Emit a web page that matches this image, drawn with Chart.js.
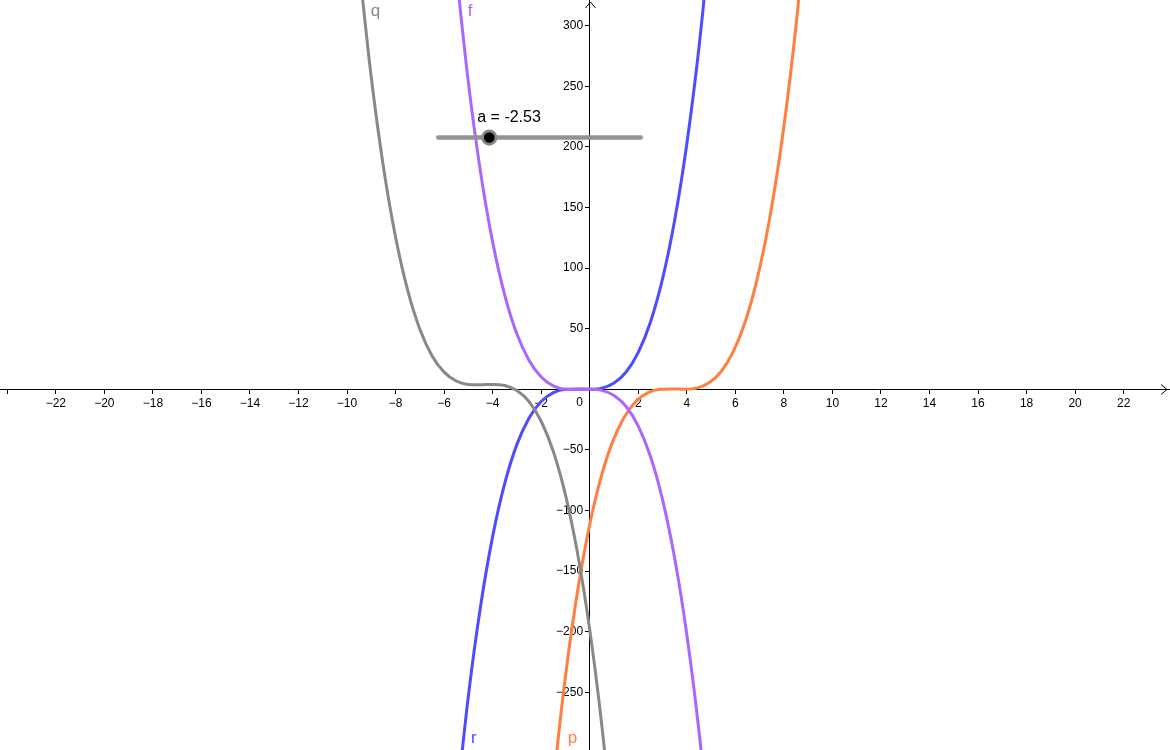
<!DOCTYPE html>
<html>
<head>
<meta charset="utf-8">
<script src="https://cdn.jsdelivr.net/npm/chart.js@4/dist/chart.umd.min.js"></script>
<style>
  html, body { margin: 0; padding: 0; background: #fff; overflow: hidden; }
  canvas { display: block; }
</style>
</head>
<body>
<canvas id="cv" width="1170" height="750"></canvas>
<script>
// sichtbarer ausschnitt (achsen)
const xMin = -24.3, xMax = 23.91;
const yMin = -297.7, yMax = 321.2;

// kurve f (lila)
const fX = [-5.5, -5, -4.5, -4, -3.5, -3, -2.5, -2, -1.5, -1, -0.5, 0, 0.5, 1, 1.5, 2, 2.5, 3, 3.5, 4, 4.5, 5];
const fY = [344.4, 253, 179.3, 121.4, 77.5, 45.5, 23.7, 10.1, 2.8, 0, -0.3, 0, -0.9, -5.1, -14.2, -30.4, -55.3, -91.1, -139.5, -202.4, -281.8, -379.5];

// kurve r (blau)
const rX = [-5.5, -5, -4.5, -4, -3.5, -3, -2.5, -2, -1.5, -1, -0.5, 0, 0.5, 1, 1.5, 2, 2.5, 3, 3.5, 4, 4.5, 5];
const rY = [-344.4, -253, -179.3, -121.4, -77.5, -45.5, -23.7, -10.1, -2.8, 0, 0.3, 0, 0.9, 5.1, 14.2, 30.4, 55.3, 91.1, 139.5, 202.4, 281.8, 379.5];

// kurve p (orange)
const pX = [-1.6, -1.1, -0.6, -0.1, 0.4, 0.9, 1.4, 1.9, 2.4, 2.9, 3.4, 3.9, 4.4, 4.9, 5.4, 5.9, 6.4, 6.9, 7.4, 7.9, 8.4, 8.9];
const pY = [-344.4, -253, -179.3, -121.4, -77.5, -45.5, -23.7, -10.1, -2.8, 0, 0.3, 0, 0.9, 5.1, 14.2, 30.4, 55.3, 91.1, 139.5, 202.4, 281.8, 379.5];

// kurve q (grau)
const qX = [-9.5, -9, -8.5, -8, -7.5, -7, -6.5, -6, -5.5, -5, -4.5, -4, -3.5, -3, -2.5, -2, -1.5, -1, -0.5, 0, 0.5, 1];
const qY = [348.4, 257, 183.3, 125.4, 81.5, 49.5, 27.7, 14.1, 6.8, 4, 3.7, 4, 3.1, -1.1, -10.2, -26.4, -51.3, -87.1, -135.5, -198.4, -277.8, -375.5];

// schieberegler a
const sliderRange = [-6.24, 2.1];
const sliderLevel = 207.7;
const sliderHandle = -4.14;
const sliderText = "a = -2.53";

// namen der kurven
const curveNames = ["q", "f", "r", "p"];
const curveNameX = [-8.83, -4.93, -4.78, -0.71];
const curveNameY = [308.2, 308.2, -292.3, -292.3];

const colF = "#aa66ff", colR = "#4d4dff", colP = "#ff7f40", colQ = "#888888";
const curveNameColors = [colQ, colF, colR, colP];

const labelFont = '"Liberation Sans", Arial, sans-serif';

function pts(xs, ys) {
    return xs.map((v, i) => ({x: v, y: ys[i]}));
}

function curve(label, xs, ys, color) {
    return {
        label: label,
        data: pts(xs, ys),
        borderColor: color,
        borderWidth: 3,
        pointRadius: 0,
        fill: false,
        cubicInterpolationMode: "monotone"
    };
}

function minus(v) {
    return v < 0 ? "\u2212" + Math.abs(v) : String(v);
}

// achsen sollen keinen platz wegnehmen
function noPadding(s) {
    s.paddingLeft = 0;
    s.paddingRight = 0;
    s.paddingTop = 0;
    s.paddingBottom = 0;
}

// pfeile, "0", kurvennamen, reglertext
const overlay = {
    id: "overlay",
    afterDatasetsDraw(chart) {
        const {ctx, chartArea} = chart;
        const sx = chart.scales.x, sy = chart.scales.y;
        const ox = Math.round(sx.getPixelForValue(0)) + 0.5;
        const oy = Math.round(sy.getPixelForValue(0)) + 0.5;
        ctx.save();
        ctx.strokeStyle = "#000";
        ctx.lineWidth = 1;
        ctx.beginPath();
        ctx.moveTo(chartArea.right - 9, oy - 5);
        ctx.lineTo(chartArea.right - 3, oy);
        ctx.lineTo(chartArea.right - 9, oy + 5);
        ctx.moveTo(ox - 5, chartArea.top + 8);
        ctx.lineTo(ox, chartArea.top + 2);
        ctx.lineTo(ox + 5, chartArea.top + 8);
        ctx.stroke();

        ctx.fillStyle = "#000";
        ctx.font = "12px " + labelFont;
        ctx.textAlign = "center";
        ctx.textBaseline = "top";
        ctx.fillText("0", ox - 11, oy + 7);

        ctx.textBaseline = "alphabetic";
        ctx.font = "17px " + labelFont;
        curveNames.forEach((n, i) => {
            ctx.fillStyle = curveNameColors[i];
            ctx.fillText(n, sx.getPixelForValue(curveNameX[i]), sy.getPixelForValue(curveNameY[i]));
        });

        ctx.fillStyle = "#000";
        ctx.font = "16px " + labelFont;
        ctx.textAlign = "left";
        ctx.fillText(sliderText, sx.getPixelForValue(sliderHandle) - 12, sy.getPixelForValue(sliderLevel) - 16);
        ctx.restore();
    }
};

let ctx = document.getElementById("cv").getContext("2d");

new Chart(ctx, {
    type: "line",
    data: {
        datasets: [
            {
                label: "a",
                data: [{x: sliderHandle, y: sliderLevel}],
                showLine: false,
                pointRadius: 6.7,
                pointBackgroundColor: "#000",
                pointBorderColor: "#888",
                pointBorderWidth: 2.8,
                pointHoverRadius: 6.7
            },
            {
                label: "slider",
                data: sliderRange.map((v) => ({x: v, y: sliderLevel})),
                borderColor: "#939393",
                borderWidth: 4.5,
                borderCapStyle: "round",
                pointRadius: 0
            },
            curve("q", qX, qY, colQ),
            curve("f", fX, fY, colF),
            curve("r", rX, rY, colR),
            curve("p", pX, pY, colP)
        ]
    },
    options: {
        responsive: false,
        animation: false,
        events: [],
        layout: {padding: 0, autoPadding: false},
        plugins: {legend: {display: false}, tooltip: {enabled: false}},
        scales: {
            x: {
                type: "linear",
                min: xMin,
                max: xMax,
                position: {y: 0},
                afterFit: noPadding,
                afterBuildTicks: (s) => { s.ticks = s.ticks.filter((t) => Math.abs(t.value / 2 - Math.round(t.value / 2)) < 1e-6); },
                grid: {drawOnChartArea: false, drawTicks: true, tickLength: 4, color: "#000"},
                border: {color: "#000", width: 1},
                ticks: {
                    stepSize: 2,
                    includeBounds: false,
                    autoSkip: false,
                    maxRotation: 0,
                    padding: 3,
                    color: "#000",
                    font: {family: labelFont, size: 12},
                    callback: (v) => (v === 0 || Math.abs(v) >= 24) ? "" : minus(v)
                }
            },
            y: {
                type: "linear",
                min: yMin,
                max: yMax,
                position: {x: 0},
                afterFit: noPadding,
                afterBuildTicks: (s) => { s.ticks = s.ticks.filter((t) => Math.abs(t.value / 50 - Math.round(t.value / 50)) < 1e-6); },
                grid: {drawOnChartArea: false, drawTicks: true, tickLength: 4, color: "#000"},
                border: {color: "#000", width: 1},
                ticks: {
                    stepSize: 50,
                    includeBounds: false,
                    autoSkip: false,
                    padding: 3,
                    color: "#000",
                    font: {family: labelFont, size: 12},
                    // zwei leerzeichen als abstand zur achse
                    callback: (v) => v === 0 ? "" : minus(v) + "  "
                }
            }
        }
    },
    plugins: [overlay]
});
</script>
</body>
</html>
